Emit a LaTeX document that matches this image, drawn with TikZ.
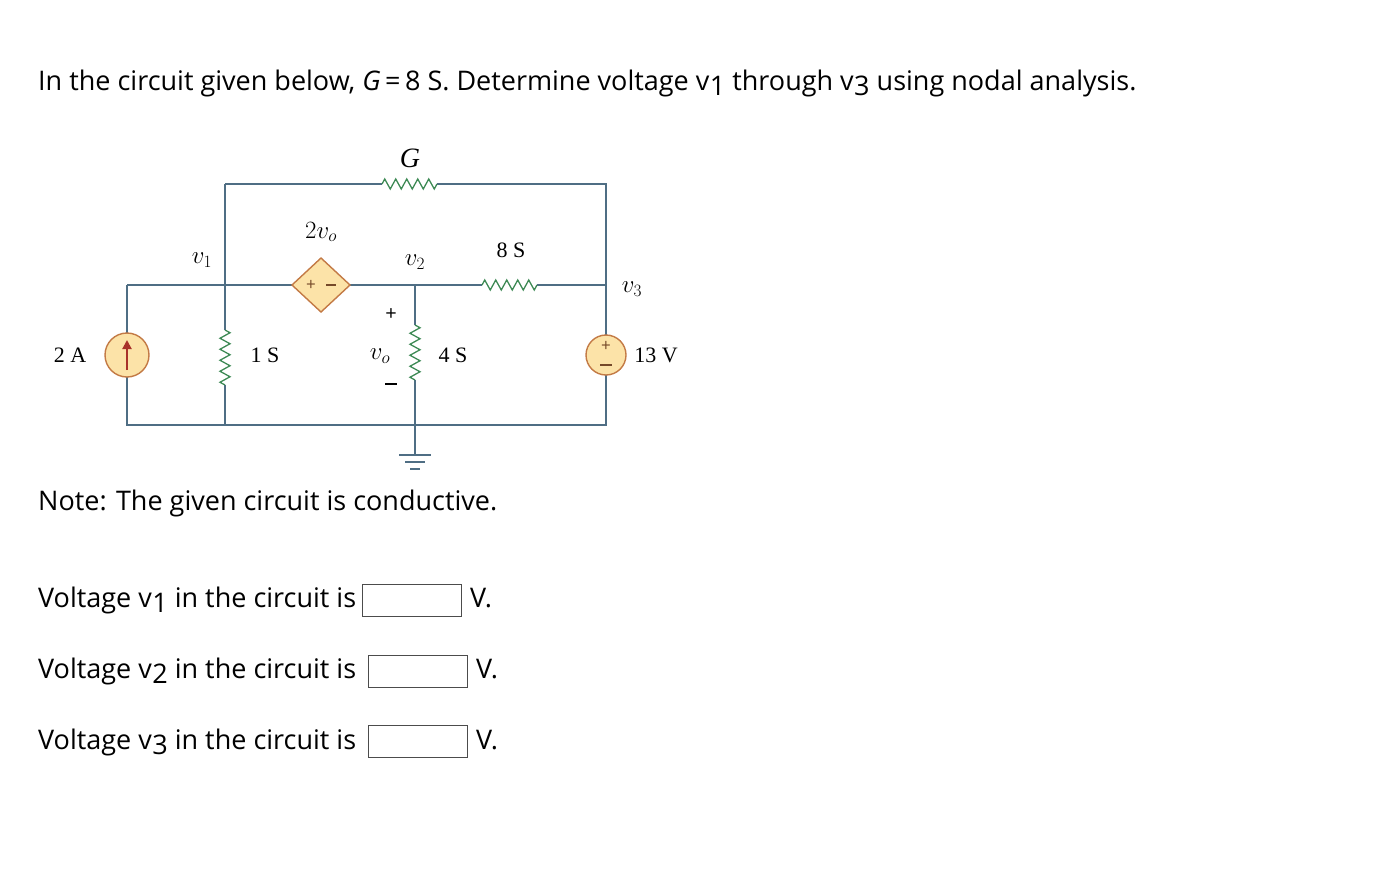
\documentclass[tikz,border=0pt]{standalone}
\usepackage{fontspec}
\setmainfont{Open Sans}
\newfontfamily\cirf{Liberation Serif}
\usetikzlibrary{decorations.pathmorphing,arrows.meta}
\definecolor{wire}{HTML}{4F6E84}
\definecolor{res}{HTML}{3E8A55}
\definecolor{srcf}{HTML}{FCE3A8}
\definecolor{srco}{HTML}{C37A45}
\definecolor{arr}{HTML}{A8322A}
\newcommand{\vs}[1]{v\kern0.5pt\raisebox{-0.35ex}{#1}}
\begin{document}
\begin{tikzpicture}[x=1pt,y=-1pt,
 w/.style={wire,line width=1.3pt},
 rz/.style={res,line width=1.3pt,decorate,decoration={zigzag,segment length=11pt,amplitude=5pt}},
 qtext/.style={anchor=base west,inner sep=0,font=\fontsize{27}{32}\selectfont},
 lab/.style={font=\cirf\fontsize{22}{24}\selectfont,inner sep=1pt},
 mlab/.style={font=\fontsize{25}{26}\selectfont,inner sep=1pt},
 ansbox/.style={draw=black!70,line width=0.8pt,minimum width=99pt,minimum height=32pt,inner sep=0}]
\useasboundingbox (0,0) rectangle (1392,868);
\node[qtext] (q) at (38,90) {In the circuit given below, \textit{G}\,=\,8 S. Determine voltage \vs{1} through \vs{3} using nodal analysis.};
% coordinates
\coordinate (tl) at (225,184); \coordinate (tr) at (606,184);
\coordinate (ml) at (127,285); \coordinate (n1) at (225,285); \coordinate (n2) at (415,285); \coordinate (n3) at (606,285);
\coordinate (bl) at (127,425); \coordinate (b1) at (225,425); \coordinate (b2) at (415,425); \coordinate (br) at (606,425);
\coordinate (gt) at (415,455);
% wires
\draw[w] (tl) -- (382,184); \draw[w] (437,184) -- (tr) -- (n3);
\draw[w] (ml) -- (n1) -- (292,285); \draw[w] (350,285) -- (n2) -- (482,285); \draw[w] (537,285) -- (n3);
\draw[w] (tl) -- (n1) -- (225,330); \draw[w] (225,385) -- (b1);
\draw[w] (n2) -- (415,325); \draw[w] (415,380) -- (b2) -- (gt);
\draw[w] (ml) -- (127,333); \draw[w] (127,377) -- (bl) -- (br) -- (606,375); \draw[w] (n3) -- (606,335);
% resistors
\draw[rz] (382,184) -- (437,184);
\draw[rz] (482,285) -- (537,285);
\draw[rz] (225,330) -- (225,385);
\draw[rz] (415,325) -- (415,380);
% ground
\draw[w] (399,455) -- (431,455); \draw[w] (405,462) -- (425,462); \draw[w] (410,469) -- (420,469);
% sources
\node[circle,draw=srco,fill=srcf,line width=1.4pt,minimum size=44pt,inner sep=0] (cs) at (127,355) {};
\draw[arr,line width=2pt,-{Triangle[length=9pt,width=9pt]}] (127,370) -- (127,340);
\node[circle,draw=srco,fill=srcf,line width=1.4pt,minimum size=40pt,inner sep=0] (vs) at (606,355) {};
\node[font=\fontsize{17}{17}\selectfont,srco!60!black,inner sep=0] at (606,346) {+};
\draw[srco!60!black,line width=1.2pt] (600,365) -- (612,365);
\draw[srco,fill=srcf,line width=1.4pt] (292,285) -- (321,258) -- (350,285) -- (321,312) -- cycle;
\node[font=\fontsize{17}{17}\selectfont,srco!60!black,inner sep=0] at (311,285) {+};
\draw[srco!60!black,line width=1.2pt] (326,285) -- (336,285);
% labels
\node[lab,font=\cirf\itshape\fontsize{28}{28}\selectfont] at (410,158) {G};
\node[mlab] at (321,232) {$2v_o$};
\node[mlab] at (202,260) {$v_1$};
\node[mlab] at (415,262) {$v_2$};
\node[lab] at (511,250) {8 S};
\node[mlab] at (632,289) {$v_3$};
\node[lab] at (70,355) {2 A};
\node[lab] at (265,355) {1 S};
\node[lab] at (453,355) {4 S};
\node[lab] at (656,355) {13 V};
\node[mlab] at (380,356) {$v_o$};
\node[lab,font=\fontsize{20}{20}\selectfont] at (391,315) {+};
\draw[black,line width=1.2pt] (385,384) -- (397,384);
\node[qtext] (note) at (38,510) {Note: The given circuit is conductive.};
\node[qtext] (a1) at (38,607) {Voltage \vs{1} in the circuit is};
\node[ansbox] (b1x) at (411.5,600) {};
\node[qtext] at (470,607) {V.};
\node[qtext] (a2) at (38,678) {Voltage \vs{2} in the circuit is};
\node[ansbox] (b2x) at (417.5,671) {};
\node[qtext] at (476,678) {V.};
\node[qtext] (a3) at (38,749) {Voltage \vs{3} in the circuit is};
\node[ansbox] (b3x) at (417.5,741) {};
\node[qtext] at (476,749) {V.};
\end{tikzpicture}
\end{document}
